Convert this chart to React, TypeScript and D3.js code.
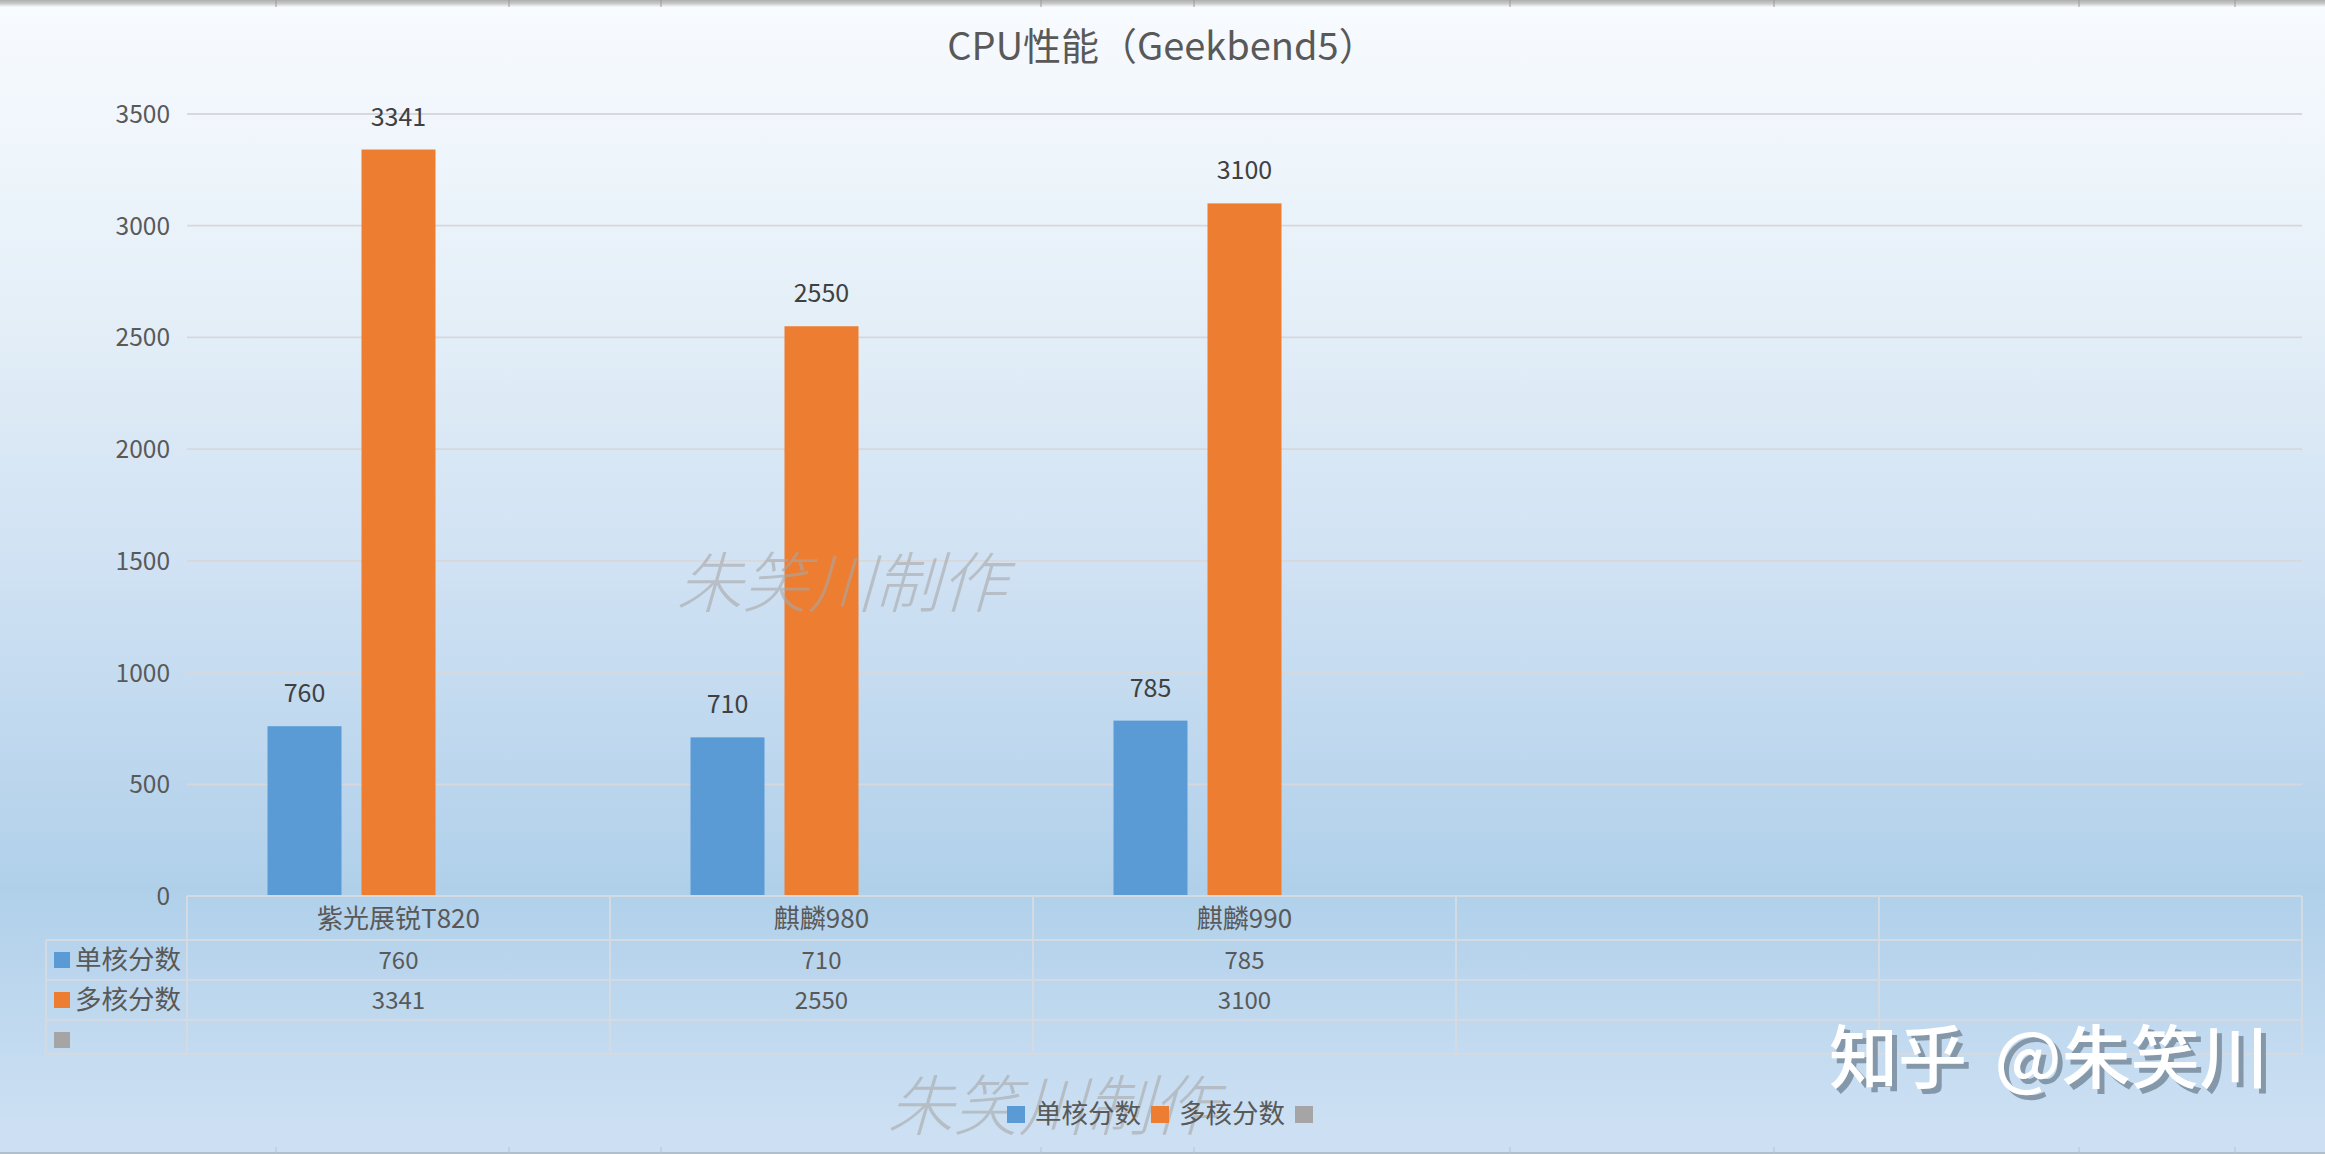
import React, { useEffect, useRef } from "react";
import * as d3 from "d3";

const W = 2325;
const H = 1154;
const title = "CPU性能（Geekbend5）";
const categories = ["紫光展锐T820", "麒麟980", "麒麟990", "", " "];
const seriesNames = ["单核分数", "多核分数", ""];
const singleCore = [760, 710, 785];
const multiCore = [3341, 2550, 3100];
const seriesColors = ["#5b9bd5", "#ed7d31", "#a5a5a5"];
const yTicks = [0, 500, 1000, 1500, 2000, 2500, 3000, 3500];
const bgStops: [number, string][] = [
  [0, "#f8fbff"],
  [0.25, "#e6f0f8"],
  [0.5, "#cfe1f3"],
  [0.77, "#b0d0ea"],
  [0.98, "#cde0f3"],
  [1, "#cde0f3"],
];
const edgeTicks = [276, 509, 661, 1041, 1194, 1510, 1774, 2079, 2235];
const watermark = "朱笑川制作";
const credit = "知乎 @朱笑川";
const SANS = "'Noto Sans CJK SC','Noto Sans',sans-serif";

export default function App() {
  const ref = useRef<SVGSVGElement>(null);
  useEffect(() => {
    const svg = d3.select(ref.current!);
    svg.selectAll("*").remove();
    const defs = svg.append("defs");
    const g = defs.append("linearGradient").attr("id", "bg").attr("x1", 0).attr("x2", 0).attr("y1", 0).attr("y2", 1);
    bgStops.forEach(([o, c]) => g.append("stop").attr("offset", o).attr("stop-color", c));
    const top = defs.append("linearGradient").attr("id", "edge").attr("x1", 0).attr("x2", 0).attr("y1", 0).attr("y2", 1);
    top.append("stop").attr("offset", 0).attr("stop-color", "#a0a0a0").attr("stop-opacity", 0.85);
    top.append("stop").attr("offset", 0.5).attr("stop-color", "#a8a8a8").attr("stop-opacity", 0.6);
    top.append("stop").attr("offset", 1).attr("stop-color", "#a8a8a8").attr("stop-opacity", 0);

    svg.append("rect").attr("width", W).attr("height", H).attr("fill", "url(#bg)");
    svg.append("rect").attr("width", W).attr("height", 7).attr("fill", "url(#edge)");
    svg.append("rect").attr("y", H - 2).attr("width", W).attr("height", 2).attr("fill", "#9aa3ab").attr("opacity", 0.55);
    edgeTicks.forEach((tx) => {
      svg.append("line").attr("x1", tx).attr("x2", tx).attr("y1", 0).attr("y2", 7).attr("stroke", "#9a9a9a").attr("stroke-width", 1);
      svg.append("line").attr("x1", tx).attr("x2", tx).attr("y1", H - 7).attr("y2", H).attr("stroke", "#b4c4d2").attr("stroke-width", 1);
    });

    const left = 187;
    const right = 2302;
    const y = d3.scaleLinear().domain([0, 3500]).range([896, 114]);
    const x = d3.scaleBand<string>().domain(categories).range([left, right]);
    const groupPad = 80.5;
    const sx = d3
      .scaleBand<string>()
      .domain(["a", "b", "c"])
      .range([groupPad, x.bandwidth() - groupPad])
      .paddingInner(20 / 94);

    // title
    svg.append("text").attr("x", 1162).attr("y", 60).attr("text-anchor", "middle")
      .attr("font-family", SANS).attr("font-size", 38).attr("fill", "#595959").text(title);

    // grid + y labels
    yTicks.forEach((t) => {
      if (t > 0)
        svg.append("line").attr("x1", left).attr("x2", right).attr("y1", y(t)).attr("y2", y(t))
          .attr("stroke", "#d6d8dc").attr("stroke-width", 1.8);
      svg.append("text").attr("x", 170).attr("y", y(t) + 9).attr("text-anchor", "end")
        .attr("font-family", SANS).attr("font-size", 24.5).attr("fill", "#595959").text(t);
    });

    const wm = (cx: number, cy: number) =>
      svg.append("text").attr("transform", `translate(${cx},${cy}) skewX(-16)`).attr("text-anchor", "middle")
        .attr("font-family", SANS).attr("font-weight", 300).attr("font-size", 66)
        .attr("fill", "#a8a8a8").attr("opacity", 0.6).text(watermark);

    // bars
    const bars = [singleCore, multiCore];
    bars.forEach((vals, s) => {
      vals.forEach((v, i) => {
        const bx = x(categories[i])! + sx(["a", "b"][s])!;
        svg.append("rect").attr("x", bx).attr("y", y(v)).attr("width", sx.bandwidth()).attr("height", y(0) - y(v))
          .attr("fill", seriesColors[s]);
        svg.append("text").attr("x", bx + sx.bandwidth() / 2).attr("y", y(v) - 24).attr("text-anchor", "middle")
          .attr("font-family", SANS).attr("font-size", 25).attr("fill", "#404040").text(v);
      });
    });
    wm(841, 607);

    // data table
    const rows = [896, 940, 980, 1020, 1054];
    const tableLeft = 46;
    const stroke = "#d3dae2";
    rows.forEach((ry, i) => {
      svg.append("line").attr("x1", i === 0 ? left : tableLeft).attr("x2", right).attr("y1", ry).attr("y2", ry)
        .attr("stroke", stroke).attr("stroke-width", 2);
    });
    svg.append("line").attr("x1", tableLeft).attr("x2", tableLeft).attr("y1", rows[1]).attr("y2", rows[4])
      .attr("stroke", stroke).attr("stroke-width", 2);
    categories.forEach((c, i) => {
      const cx = x(c)!;
      svg.append("line").attr("x1", cx).attr("x2", cx).attr("y1", rows[0]).attr("y2", rows[4]).attr("stroke", stroke).attr("stroke-width", 2);
      svg.append("text").attr("x", cx + x.bandwidth() / 2).attr("y", 928).attr("text-anchor", "middle")
        .attr("font-family", SANS).attr("font-size", 26).attr("fill", "#595959").text(c.trim());
    });
    svg.append("line").attr("x1", right).attr("x2", right).attr("y1", rows[0]).attr("y2", rows[4]).attr("stroke", stroke).attr("stroke-width", 2);

    seriesNames.forEach((n, s) => {
      const cy = s === 2 ? 1040 : (rows[s + 1] + rows[s + 2]) / 2;
      svg.append("rect").attr("x", 54).attr("y", cy - 8).attr("width", 16).attr("height", 16).attr("fill", seriesColors[s]);
      svg.append("text").attr("x", 75).attr("y", cy + 9).attr("font-family", SANS).attr("font-size", 26.5).attr("fill", "#595959").text(n);
      if (s < 2)
        bars[s].forEach((v, i) => {
          svg.append("text").attr("x", x(categories[i])! + x.bandwidth() / 2).attr("y", cy + 8.5).attr("text-anchor", "middle")
            .attr("font-family", SANS).attr("font-size", 24).attr("fill", "#595959").text(v);
        });
    });

    // bottom watermark + legend
    wm(1052, 1130);
    const legendKeys = [1007, 1151, 1295];
    const legendTexts = [1035, 1179];
    seriesNames.forEach((n, s) => {
      svg.append("rect").attr("x", legendKeys[s]).attr("y", 1106).attr("width", 18).attr("height", 17).attr("fill", seriesColors[s]);
      if (n)
        svg.append("text").attr("x", legendTexts[s]).attr("y", 1123).attr("font-family", SANS).attr("font-size", 26.5).attr("fill", "#595959").text(n);
    });

    // credit
    const creditAttrs = (sel: d3.Selection<SVGTextElement, unknown, null, undefined>) =>
      sel.attr("font-family", SANS).attr("font-weight", 500).attr("font-size", 69).attr("word-spacing", 12).attr("text-anchor", "start").text(credit);
    creditAttrs(svg.append("text").attr("x", 1834).attr("y", 1088).attr("fill", "#8498aa"));
    creditAttrs(svg.append("text").attr("x", 1829).attr("y", 1083).attr("fill", "#ffffff"));
  }, []);
  return <svg ref={ref} width={W} height={H} style={{ position: "absolute", left: 0, top: 0, display: "block" }} />;
}
